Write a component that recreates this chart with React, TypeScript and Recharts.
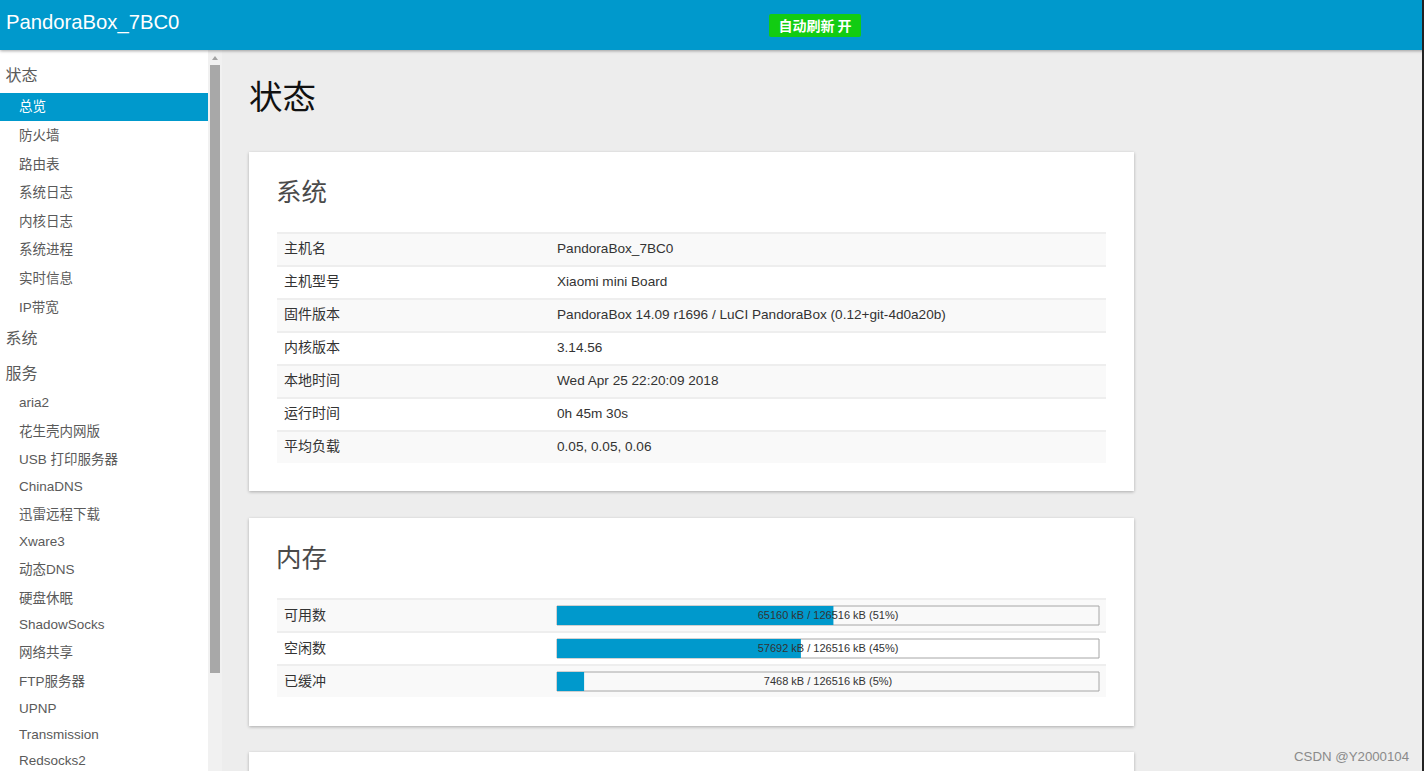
import React from 'react'
import { BarChart, Bar, XAxis, YAxis, LabelList } from 'recharts'

const SANS = '"Liberation Sans", Arial, "Noto Sans CJK SC", sans-serif'
const BLUE = '#0099cc'

const navStatus = ['总览', '防火墙', '路由表', '系统日志', '内核日志', '系统进程', '实时信息', 'IP带宽']
const navServices = ['aria2', '花生壳内网版', 'USB 打印服务器', 'ChinaDNS', '迅雷远程下载', 'Xware3', '动态DNS', '硬盘休眠', 'ShadowSocks', '网络共享', 'FTP服务器', 'UPNP', 'Transmission', 'Redsocks2']

const systemKeys = ['主机名', '主机型号', '固件版本', '内核版本', '本地时间', '运行时间', '平均负载']
const systemValues = [
  'PandoraBox_7BC0',
  'Xiaomi mini Board',
  'PandoraBox 14.09 r1696 / LuCI PandoraBox (0.12+git-4d0a20b)',
  '3.14.56',
  'Wed Apr 25 22:20:09 2018',
  '0h 45m 30s',
  '0.05, 0.05, 0.06',
]

const memoryLabels = ['可用数', '空闲数', '已缓冲']
const memoryKb = [65160, 57692, 7468]
const memoryPercent = [51, 45, 5]
const totalKb = 126516

const memoryData = memoryLabels.map((name, i) => ({
  name,
  percent: memoryPercent[i],
  full: 100,
  text: `${memoryKb[i]} kB / ${totalKb} kB (${memoryPercent[i]}%)`,
}))

function NavHeading({ label }: { label: string }) {
  return <div style={{ height: 34.5, lineHeight: '36.5px', paddingLeft: 5.5, fontSize: 16, color: '#5a5a5a' }}>{label}</div>
}

function NavItem({ label, active }: { label: string; active?: boolean }) {
  // rows holding CJK text come out a little taller than plain latin ones
  const cjk = /[^\x00-\x7f]/.test(label)
  const h = cjk ? 28.6 : 26.3
  return (
    <div style={{
      height: h, lineHeight: `${cjk && !active ? h + 2 : h}px`, paddingLeft: 19, fontSize: 13.5,
      color: active ? '#fff' : '#5a5a5a', background: active ? BLUE : 'transparent',
    }}>{label}</div>
  )
}

function Card({ top, height, title }: { top: number; height: number; title?: string }) {
  return (
    <div style={{
      position: 'absolute', left: 249, top, width: 885, height, background: '#fff',
      boxShadow: '0 1px 3px rgba(0,0,0,0.28)',
    }}>
      {title && <div style={{ position: 'absolute', left: 27, top: 22, fontSize: 25.5, lineHeight: '36px', color: '#4a4a4a' }}>{title}</div>}
    </div>
  )
}

function Row({ top, index, label, value }: { top: number; index: number; label: string; value?: string }) {
  return (
    <div style={{
      position: 'absolute', left: 277, top, width: 829, height: 33, boxSizing: 'border-box',
      borderTop: '2px solid #eee', background: index % 2 === 0 ? '#f9f9f9' : '#fff',
      fontSize: 13.6, lineHeight: '28px', color: '#333',
    }}>
      {value !== undefined && <span style={{ position: 'absolute', left: 7, fontSize: 14 }}>{label}</span>}
      {value !== undefined && <span style={{ position: 'absolute', left: 280, top: 1 }}>{value}</span>}
    </div>
  )
}

function MemoryTick({ y, payload }: any) {
  return (
    <text x={7} y={y} dy={4} textAnchor="start" fontSize={14} fill="#333" fontFamily={SANS}>
      {payload.value}
    </text>
  )
}

function MemoryChart() {
  return (
    <div style={{ position: 'absolute', left: 277, top: 599 }}>
      <BarChart
        width={829}
        height={99}
        data={memoryData}
        layout="vertical"
        margin={{ top: 0, right: 7, bottom: 0, left: 0 }}
        barSize={19}
        barGap={-19}
      >
        <XAxis type="number" domain={[0, 100]} hide />
        <YAxis type="category" dataKey="name" width={280} axisLine={false} tickLine={false} tick={MemoryTick} interval={0} />
        <Bar dataKey="percent" fill={BLUE} background={{ fill: 'none', stroke: '#a6a6a6', strokeWidth: 1 }} isAnimationActive={false} />
        <Bar dataKey="full" fill="none" isAnimationActive={false}>
          <LabelList dataKey="text" position="center" fill="#333" fontSize={11} fontFamily={SANS} />
        </Bar>
      </BarChart>
    </div>
  )
}

export default function App() {
  return (
    <div style={{ position: 'fixed', left: 0, top: 0, width: 1424, height: 771, overflow: 'hidden', background: '#ededed', fontFamily: SANS }}>
      {/* sidebar */}
      <div style={{ position: 'absolute', left: 0, top: 50, width: 208, height: 721, background: '#fff', paddingTop: 8, boxSizing: 'border-box' }}>
        <NavHeading label="状态" />
        {navStatus.map((n, i) => <NavItem key={n} label={n} active={i === 0} />)}
        <NavHeading label="系统" />
        <NavHeading label="服务" />
        {navServices.map(n => <NavItem key={n} label={n} />)}
      </div>
      {/* scrollbar */}
      <div style={{ position: 'absolute', left: 208, top: 50, width: 14, height: 721, background: '#f1f1f1' }} />
      <div style={{ position: 'absolute', left: 210, top: 65, width: 10, height: 608, background: '#a8a8a8' }} />
      <div style={{ position: 'absolute', left: 212, top: 56, width: 0, height: 0, borderLeft: '3.5px solid transparent', borderRight: '3.5px solid transparent', borderBottom: '4px solid #a3a3a3' }} />

      {/* header */}
      <div style={{ position: 'absolute', left: 0, top: 0, width: 1424, height: 50, background: BLUE, boxShadow: '0 1px 3px rgba(0,0,0,0.35)' }}>
        <div style={{ position: 'absolute', left: 6, top: 8, fontSize: 20.25, lineHeight: '28px', color: '#fff' }}>PandoraBox_7BC0</div>
        <div style={{
          position: 'absolute', left: 769, top: 14, width: 92, height: 23, borderRadius: 2, background: '#12cc12',
          color: '#fff', fontSize: 14, fontWeight: 'bold', textAlign: 'center', lineHeight: '23px',
          fontFamily: '"Noto Sans CJK SC", sans-serif',
        }}>自动刷新 开</div>
      </div>

      {/* main */}
      <div style={{ position: 'absolute', left: 249, top: 75, fontSize: 33.5, lineHeight: '46px', color: '#111' }}>状态</div>

      <Card top={152} height={339} title="系统" />
      {systemKeys.map((k, i) => <Row key={k} top={232 + i * 33} index={i} label={k} value={systemValues[i]} />)}

      <Card top={518} height={208} title="内存" />
      {memoryLabels.map((k, i) => <Row key={k} top={598 + i * 33} index={i} label={k} />)}
      <MemoryChart />

      <Card top={752} height={40} />

      <div style={{ position: 'absolute', left: 1294, top: 749, fontSize: 13.25, lineHeight: '16px', color: '#8a8a8a' }}>CSDN @Y2000104</div>

      {/* dark edge of the screenshot */}
      <div style={{ position: 'absolute', left: 1422, top: 0, width: 2, height: 771, background: '#222' }} />
    </div>
  )
}
